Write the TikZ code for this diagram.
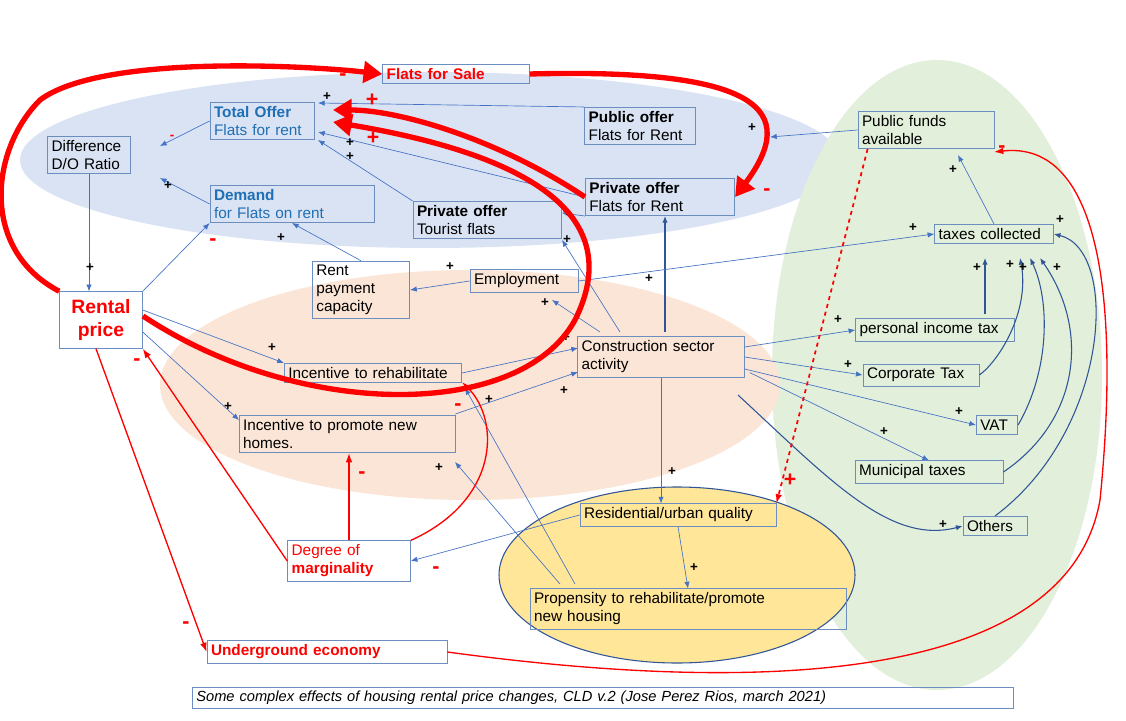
\documentclass[tikz,border=0pt]{standalone}
\usepackage{fontspec}
\setmainfont{Liberation Sans}
\usetikzlibrary{arrows.meta}
\begin{document}
\begin{tikzpicture}[x=0.75pt,y=-0.75pt,font=\fontsize{11.5}{13.5}\selectfont,
 box/.style={draw=bbox,line width=0.6pt,align=left,inner sep=3pt,anchor=center},
 bl/.style={draw=lblue,line width=0.5pt,-{Latex[length=5pt,width=4pt]}},
 db/.style={draw=dblue,line width=0.8pt,-{Latex[length=5pt,width=4pt]}},
 rth/.style={draw=red,line width=4pt,-{Triangle[length=14pt,width=16pt]}},
 rt/.style={draw=red,line width=1pt,-{Latex[length=7pt,width=5pt]}},
 p/.style={font=\fontsize{10}{12}\selectfont\bfseries},
 rs/.style={font=\fontsize{16}{16}\selectfont\bfseries,text=red}]
\definecolor{bbox}{HTML}{6C8EBF}
\definecolor{lblue}{HTML}{4472C4}
\definecolor{dblue}{HTML}{2F5597}
\definecolor{tblue}{HTML}{1F6FB5}
\useasboundingbox (0,0) rectangle (1126,720);
\fill[white] (0,0) rectangle (1126,720);
% ellipses
\fill[fill={rgb,255:red,218;green,227;blue,243}] (430,160) ellipse (410 and 88);
\fill[fill={rgb,255:red,226;green,239;blue,218}] (937,375) ellipse (165 and 315);
\fill[fill={rgb,255:red,251;green,229;blue,214}] (470,385) ellipse (310 and 115);
\filldraw[fill={rgb,255:red,255;green,230;blue,153},draw=dblue,line width=0.8pt] (677,575) ellipse (178 and 88);
% nodes
\node[box,text=red,font=\fontsize{11.5}{13.5}\selectfont\bfseries,text width=104pt] (fs) at (456,74) {Flats for Sale};
\node[box,text=tblue,text width=72pt] (to) at (262,121) {\textbf{Total Offer}\\Flats for rent};
\node[box,text width=56pt] (dif) at (89,155) {Difference\\\mbox{D/O Ratio}};
\node[box,text width=77pt] (pub) at (640,126) {\textbf{Public offer}\\Flats for Rent};
\node[box,text width=106pt] (pof) at (660,197) {\textbf{Private offer}\\Flats for Rent};
\node[box,text=tblue,text width=117pt] (dem) at (292,204) {\textbf{Demand}\\for Flats on rent};
\node[box,text width=105pt] (tour) at (487,220) {\textbf{Private offer}\\Tourist flats};
\node[box,text width=96pt] (pf) at (926,130) {Public funds\\available};
\node[box,text width=83pt] (tax) at (994,234) {taxes collected};
\node[box,text width=67pt] (rpc) at (361,290) {Rent\\payment\\capacity};
\node[box,text width=75pt] (emp) at (524,281) {Employment};
\node[box,text=red,font=\fontsize{14.5}{17}\selectfont\bfseries,align=center,text width=50pt,inner sep=6pt] (rp) at (101,320) {Rental\\price};
\node[box,text width=119pt] (cs) at (661,357) {Construction sector\\activity};
\node[box,text width=113pt] (pit) at (935,330) {personal income tax};
\node[box,text width=81pt] (ct) at (921,375) {Corporate Tax};
\node[box,text width=25pt] (vat) at (997,425) {VAT};
\node[box,text width=127pt] (ir) at (373,373) {Incentive to rehabilitate};
\node[box,text width=156pt] (inh) at (347,434) {Incentive to promote new\\homes.};
\node[box,text width=105pt] (mt) at (929,472) {Municipal taxes};
\node[box,text width=42pt] (oth) at (995,526) {Others};
\node[box,text width=141pt] (ruq) at (678,515) {Residential/urban quality};
\node[box,text=red,text width=86pt] (dm) at (349,561) {Degree of\\\textbf{marginality}};
\node[box,text width=231pt] (prop) at (688,609) {Propensity to rehabilitate/promote\\new housing};
\node[box,text=red,font=\fontsize{11.5}{13.5}\selectfont\bfseries,text width=174pt] (ue) at (327,652) {Underground economy};
\node[box,font=\fontsize{11}{13}\selectfont\itshape,text width=610pt] (cap) at (603,698) {Some complex effects of housing rental price changes, CLD v.2 (Jose Perez Rios, march 2021)};
% thin blue connectors
\draw[bl] (to.west) -- (160,146); \node[p,text=red] at (172,137) {-};
\draw[bl] (dem.west) -- (160,178); \node[p] at (168,186) {+};
\draw[bl] (dif.south) -- (rp.north-|dif.south); \node[p] at (90,268) {+};
\draw[bl] (rp.north east) -- (dem.south west); \node[rs] at (213,242) {-};
\draw[bl] (rpc.north) -- (dem.south); \node[p] at (281,238) {+};
\draw[bl] (emp.west) -- (rpc.east); \node[p] at (450,267) {+};
\draw[bl] (pub.north west) -- (318,103); \node[p] at (327,97) {+};
\draw[bl] (pof.west) -- (318,132); \node[p] at (350,143) {+};
\draw[bl] (tour.north west) -- (318,140); \node[p] at (350,157) {+};
\draw[bl] (pof.south west) -- (562,213); \node[p] at (567,213) {+};
\draw[bl] (620,332) -- (562,240); \node[p] at (567,240) {+};
\draw[db] (665,332) -- (pof.south-|665,0); \node[p] at (649,279) {+};
\draw[bl] (600,332) -- (552,300); \node[p] at (545,303) {+};
\draw[bl] (emp.east) -- (tax.west); \node[p] at (913,228) {+};
\draw[bl] (tax.north) -- (958,155); \node[p] at (953,170) {+};
\draw[bl] (pf.west) -- (770,137); \node[p] at (752,128) {+};
\draw[bl] (rp.east) ++(0,-10) -- (ir.north west); \node[p] at (272,348) {+};
\draw[bl] (rp.east) ++(0,12) -- (239,420); \node[p] at (228,407) {+};
\draw[bl] (ir.east) -- (578,348); \node[p] at (566,338) {+};
\draw[bl] (inh.east) ++(0,-20) -- (578,372); \node[p] at (564,391) {+};
\draw[bl] (cs.east) ++(0,-10) -- (pit.west); \node[p] at (838,320) {+};
\draw[bl] (cs.east) -- (ct.west); \node[p] at (848,365) {+};
\draw[bl] (cs.east) ++(0,12) -- (vat.west); \node[p] at (959,412) {+};
\draw[bl] (cs.south east) ++(5,-5) -- (mt.north); \node[p] at (884,432) {+};
\draw[db] (738,395) .. controls (830,480) and (890,545) .. (oth.west); \node[p] at (943,525) {+};
\draw[bl] (cs.south) -- (ruq.north-|cs.south); \node[p] at (672,472) {+};
\draw[bl] (ruq.south) -- (prop.north); \node[p] at (694,568) {+};
\draw[bl] (ruq.west) -- (dm.east); \node[rs] at (436,570) {-};
\draw[bl] (575,584) -- (465,388); \node[p] at (489,400) {+};
\draw[bl] (560,584) -- (455,462); \node[p] at (439,468) {+};
\draw[db] (985,314) -- (985,258); \node[p] at (977,268) {+};
\draw[db] (ct.east) .. controls (1000,360) and (1030,310) .. (1020,258); \node[p] at (1010,265) {+};
\draw[db] (vat.east) .. controls (1050,370) and (1050,300) .. (1030,258); \node[p] at (1023,268) {+};
\draw[db] (mt.east) .. controls (1080,420) and (1090,330) .. (1040,258); \node[p] at (1057,268) {+};
\draw[db] (oth.north) .. controls (1110,430) and (1120,250) .. (tax.east); \node[p] at (1060,220) {+};
% thin red
\draw[rt] (dm.west) -- (rp.south east); \node[rs] at (137,362) {-};
\draw[rt] (dm.north) -- (inh.south-|dm.north); \node[rs] at (362,475) {-};
\draw[rt] (dm.north east) .. controls (500,500) and (500,420) .. (462,382); \node[rs] at (458,407) {-};
\draw[rt] (rp.south) ++(-5,0) -- (ue.west); \node[rs] at (186,625) {-};
\draw[rt] (ue.east) .. controls (800,700) and (1070,670) .. (1100,500) .. controls (1120,300) and (1100,140) .. (994,152); \node[rs] at (1002,149) {-};
\draw[rt,dashed,line width=1.3pt] (pf.south west) ++(10,0) -- (ruq.north east) ; \node[rs] at (790,480) {+};
% thick red
\draw[rth] (rp.north west) .. controls (-20,250) and (-10,150) .. (40,100) .. controls (100,55) and (300,65) .. (fs.west); \node[rs] at (343,77) {-};
\draw[rth] (fs.east) .. controls (760,68) and (800,110) .. (pof.east); \node[rs] at (767,192) {-};
\draw[rth] (pof.west) .. controls (500,140) and (400,110) .. (333,110); \node[rs] at (372,100) {+};
\draw[rth] (143,316) .. controls (300,420) and (520,420) .. (575,320) .. controls (620,230) and (560,160) .. (333,122); \node[rs] at (373,138) {+};
\end{tikzpicture}
\end{document}
